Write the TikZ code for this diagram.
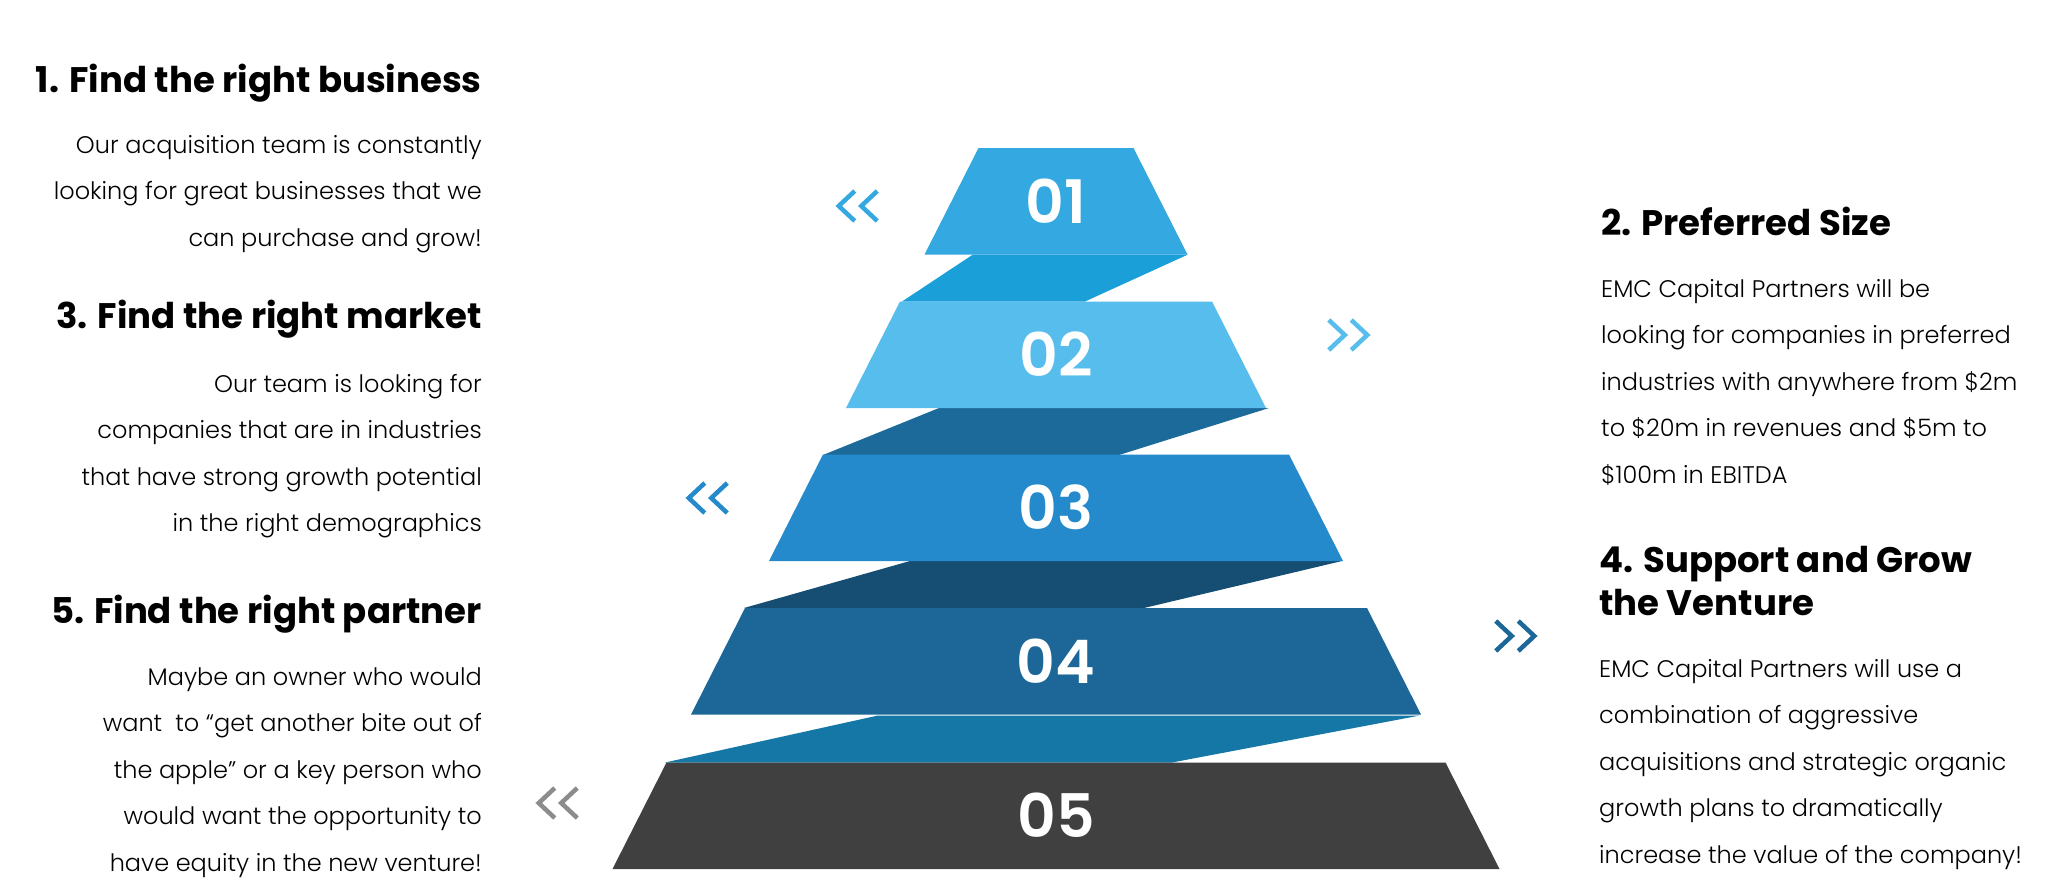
\documentclass[tikz,border=0pt]{standalone}
\usepackage{fontspec}
\setmainfont{Poppins Light}
\newfontfamily\headfont{Poppins Bold}
\newfontfamily\numfont{Poppins SemiBold}
\usepackage{tikz}
\usetikzlibrary{positioning}

\definecolor{tierA}{HTML}{34A8E0}
\definecolor{tierB}{HTML}{57BDEC}
\definecolor{tierC}{HTML}{248ACB}
\definecolor{tierD}{HTML}{1C6797}
\definecolor{tierE}{HTML}{404040}
\definecolor{linkA}{HTML}{1A9FD9}
\definecolor{linkB}{HTML}{1C6A9A}
\definecolor{linkC}{HTML}{164D73}
\definecolor{linkD}{HTML}{1477A5}
\definecolor{chevgray}{HTML}{8C8C8C}

\begin{document}
\begin{tikzpicture}[
    x=1pt, y=-1pt,
    tiernum/.style={text=white, inner sep=0pt, font=\numfont\fontsize{60}{60}\selectfont},
    headtext/.style={inner sep=0pt, font=\headfont\fontsize{35.5}{43}\selectfont},
    bodytext/.style={inner sep=0pt, font=\fontsize{24}{46.5}\selectfont},
    chev/.style={line width=4.5pt, miter limit=10}
]
\useasboundingbox[fill=white] (0,0) rectangle (2048,894);

% bands between the tiers
\foreach \ty/\a/\b/\c/\e/\col in {254.5/973/1188/902/1085/linkA,
    408/939/1269/823/1119/linkB,
    561/910/1342/744/1144/linkC,
    715.5/878/1420/665/1172/linkD}
  \fill[\col] (\a,\ty) -- (\b,\ty) -- (\e,\ty+47) -- (\c,\ty+47) -- cycle;

% tiers
\foreach \i/\ty/\hw/\col in {1/148/77.5/tierA, 2/301.5/156/tierB, 3/454.5/233/tierC,
    4/608/311/tierD, 5/762.5/389.5/tierE} {
  \fill[\col] (1056-\hw,\ty) -- (1056+\hw,\ty) -- (1056+\hw+54,\ty+106.5)
    -- (1056-\hw-54,\ty+106.5) -- cycle;
  \node[tiernum] (n\i) at (1056,\ty+53) {0\i};
}

% chevrons
\foreach \cx/\cy/\dir/\col in {858/206/-1/tierA, 1348/335/1/tierB, 708/498/-1/tierC,
    1515/636/1/tierD, 558/803/-1/chevgray}
  \foreach \o in {-11.25,11.25}
    \draw[chev, \col] (\cx+\o-\dir*8,\cy-15) -- (\cx+\o+\dir*8,\cy) -- (\cx+\o-\dir*8,\cy+15);

% left column (base = last line)
\node[headtext, anchor=base east] (h1) at (482,92) {1. Find the right business};
\node[bodytext, anchor=base east, align=right] (b1) at (482,246)
  {Our acquisition team is constantly\\looking for great businesses that we\\can purchase and grow!};
\node[headtext, anchor=base east] (h3) at (482,328) {3. Find the right market};
\node[bodytext, anchor=base east, align=right] (b3) at (482,531.5)
  {Our team is looking for\\companies that are in industries\\that have strong growth potential\\in the right demographics};
\node[headtext, anchor=base east] (h5) at (482,623) {5. Find the right partner};
\node[bodytext, anchor=base east, align=right] (b5) at (482,871)
  {Maybe an owner who would\\want~ to “get another bite out of\\the apple” or a key person who\\would want the opportunity to\\have equity in the new venture!};

% right column
\node[headtext, anchor=base west] (h2) at (1601,235) {2. Preferred Size};
\node[bodytext, anchor=base west, align=left] (b2) at (1601,483)
  {EMC Capital Partners will be\\looking for companies in preferred\\industries with anywhere from \$2m\\to \$20m in revenues and \$5m to\\\$100m in EBITDA};
\node[headtext, anchor=base west, align=left] (h4) at (1599,615) {4. Support and Grow\\the Venture};
\node[bodytext, anchor=base west, align=left] (b4) at (1599,863)
  {EMC Capital Partners will use a\\combination of aggressive\\acquisitions and strategic organic\\growth plans to dramatically\\increase the value of the company!};
\end{tikzpicture}
\end{document}
